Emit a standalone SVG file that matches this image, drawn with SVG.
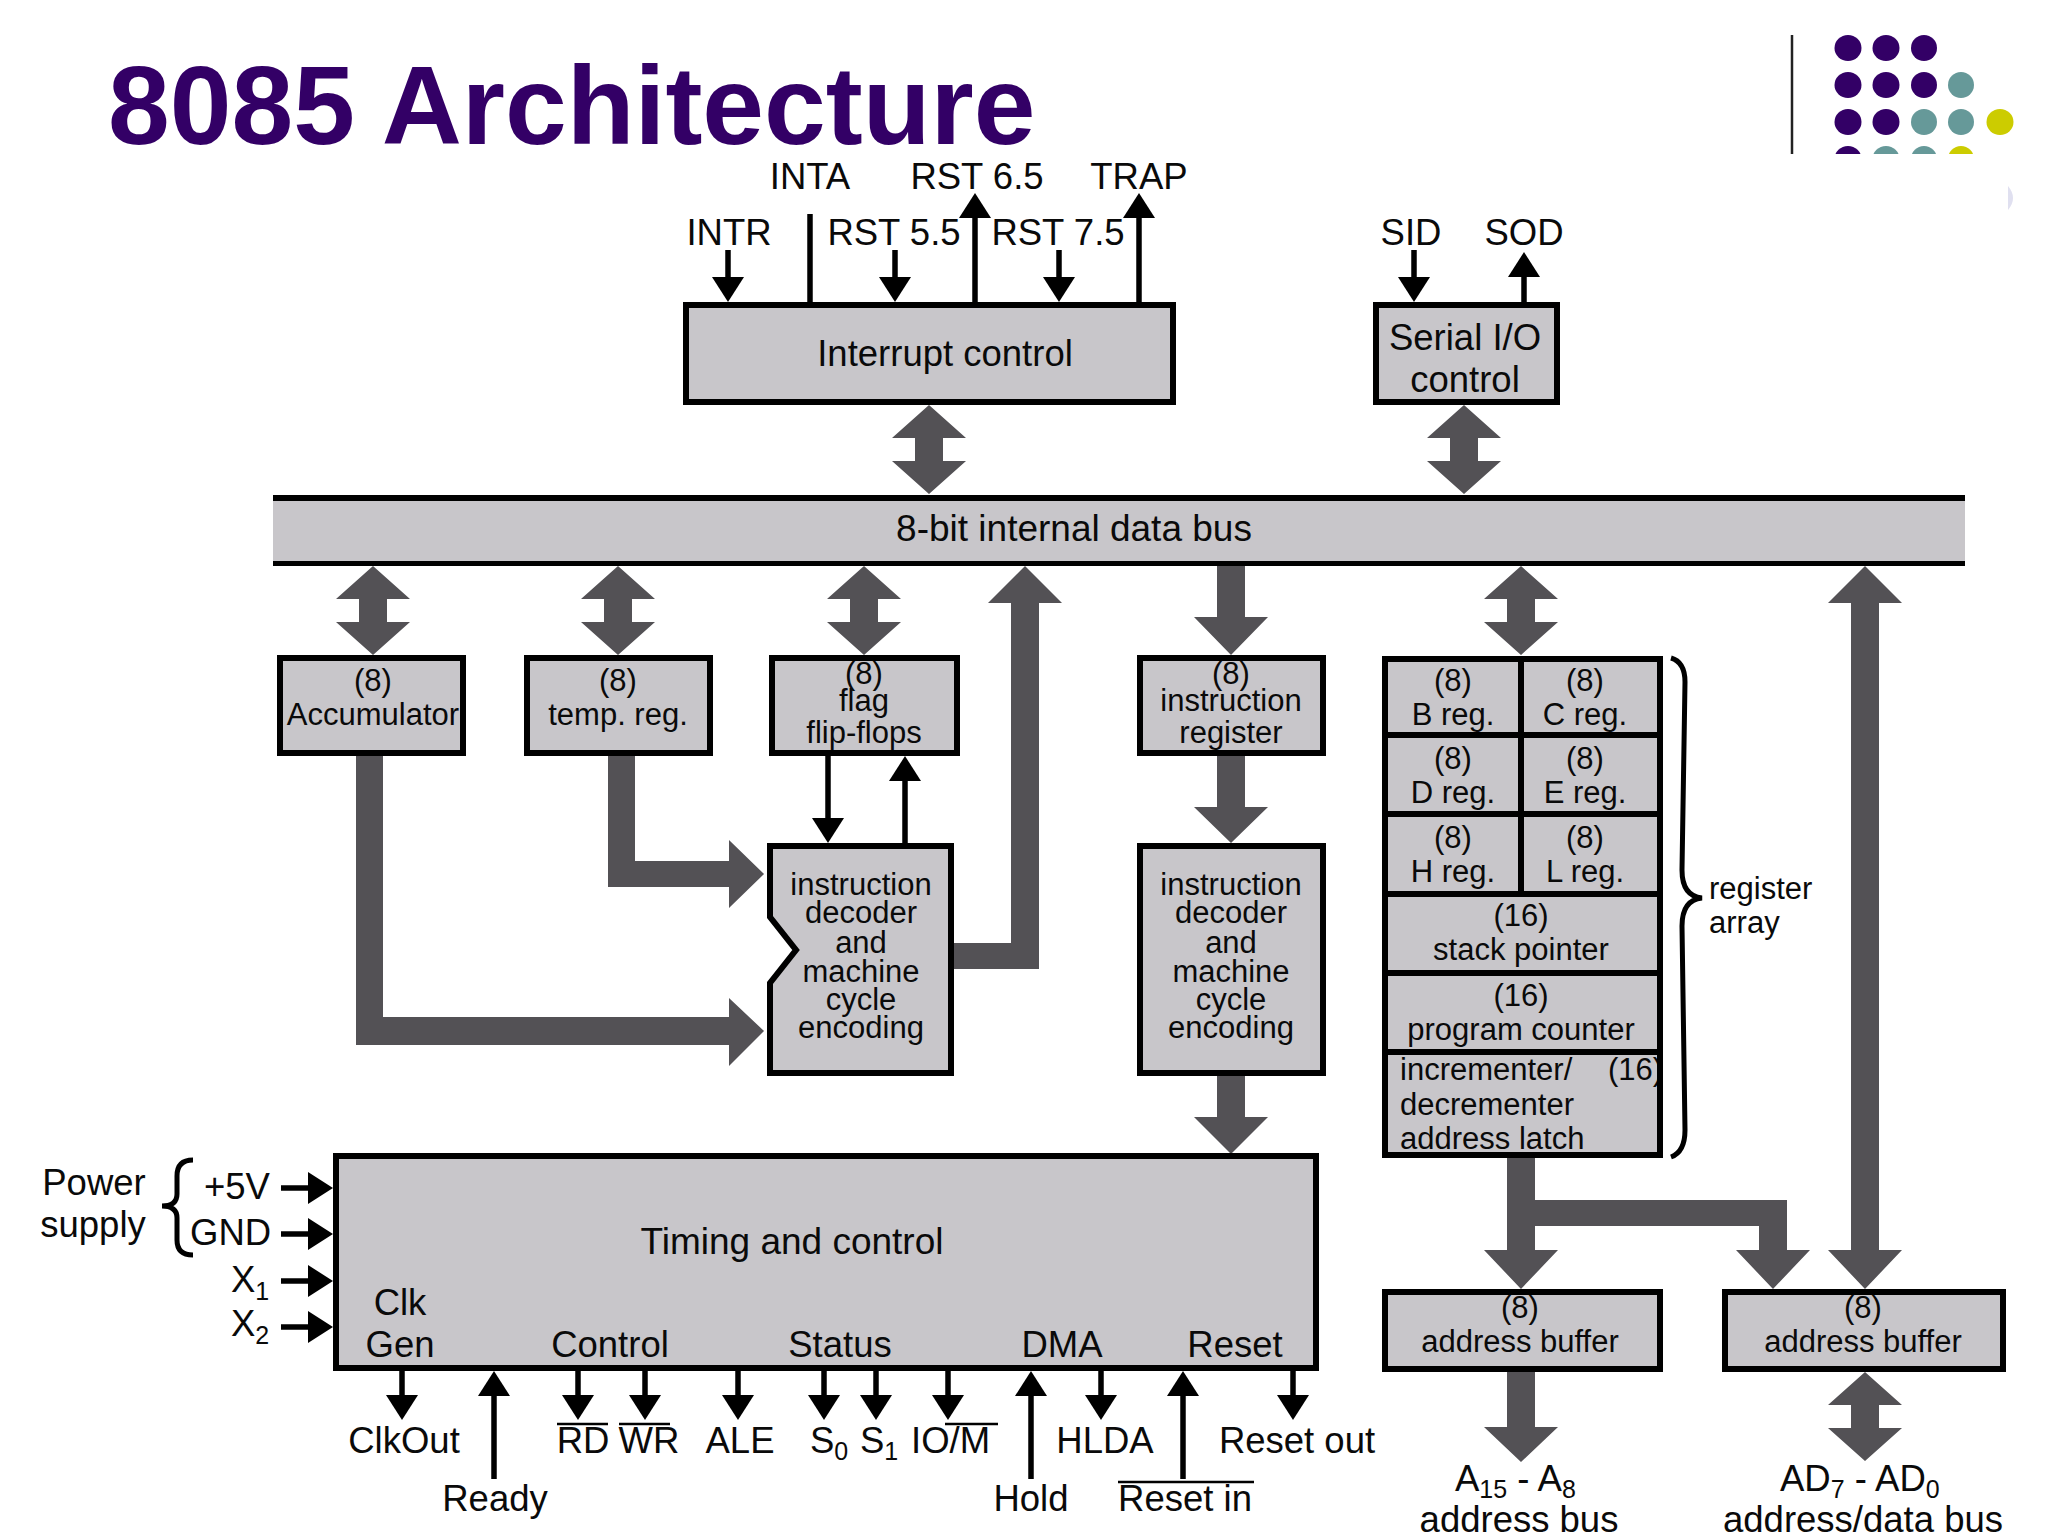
<svg xmlns="http://www.w3.org/2000/svg" width="2048" height="1536" viewBox="0 0 2048 1536">
<style>
text{font-family:"Liberation Sans",Arial,sans-serif;fill:#0a0a0a}
.l{font-size:36.5px}
.s{font-size:31px}
.c{text-anchor:middle}
.box{fill:#c8c6ca;stroke:#000;stroke-width:6}
.div{stroke:#000;stroke-width:6;fill:none}
.sig{stroke:#000;stroke-width:5.5;fill:none;marker-end:url(#ah)}
.plain{stroke:#000;stroke-width:5.5;fill:none}
.bar{stroke:#000;stroke-width:2.5;fill:none}
.thick{fill:#535155}
.brace{stroke:#000;stroke-width:5;fill:none}
.pu{fill:#330066}.te{fill:#669999}.ye{fill:#cccc00}
</style>
<defs>
<marker id="ah" markerUnits="userSpaceOnUse" markerWidth="26" markerHeight="32" refX="0" refY="16" orient="auto"><path d="M0,0L25,16L0,32z" fill="#000"/></marker>
<polygon id="dbl" points="0,0 37,33 14,33 14,56 37,56 0,89 -37,56 -14,56 -14,33 -37,33"/>
<clipPath id="dc"><rect x="1830" y="20" width="200" height="134"/></clipPath>
</defs>
<rect width="2048" height="1536" fill="#fff"/>
<g id="title"><text x="108" y="144" font-size="111" font-weight="700" style="fill:#330066">8085 Architecture</text></g>
<g id="decor">
<line x1="1792" y1="35" x2="1792" y2="154" stroke="#222" stroke-width="2.5"/>
<g clip-path="url(#dc)">
<ellipse class="pu" cx="1848" cy="48" rx="13.5" ry="13"/><ellipse class="pu" cx="1886" cy="48" rx="13.5" ry="13"/><ellipse class="pu" cx="1924" cy="48" rx="13" ry="13"/>
<ellipse class="pu" cx="1848" cy="85" rx="13.5" ry="13"/><ellipse class="pu" cx="1886" cy="85" rx="13.5" ry="13"/><ellipse class="pu" cx="1924" cy="85" rx="13" ry="13"/><ellipse class="te" cx="1961" cy="85" rx="13" ry="13"/>
<ellipse class="pu" cx="1848" cy="122" rx="13.5" ry="13"/><ellipse class="pu" cx="1886" cy="122" rx="13.5" ry="13"/><ellipse class="te" cx="1924" cy="122" rx="13" ry="13"/><ellipse class="te" cx="1961" cy="122" rx="13" ry="13"/><ellipse class="ye" cx="2000" cy="122" rx="13.5" ry="13"/>
<ellipse class="pu" cx="1848" cy="159" rx="13.5" ry="13"/><ellipse class="te" cx="1886" cy="159" rx="13.5" ry="13"/><ellipse class="te" cx="1924" cy="159" rx="13" ry="13"/><ellipse class="ye" cx="1961" cy="159" rx="13" ry="13"/>
</g>
<path d="M2008,186 Q2018,198 2008,210z" fill="#e0e0f0"/>
</g>
<g id="connectors">
<g class="thick">
<use href="#dbl" x="929" y="405"/><use href="#dbl" x="1464" y="405"/>
<use href="#dbl" x="373" y="566"/><use href="#dbl" x="618" y="566"/><use href="#dbl" x="864" y="566"/><use href="#dbl" x="1521" y="566"/>
<use href="#dbl" x="1865" y="1372"/>
<polygon points="1217,566 1245,566 1245,617 1268,617 1231,655 1194,617 1217,617"/>
<polygon points="1217,756 1245,756 1245,807 1268,807 1231,843 1194,807 1217,807"/>
<polygon points="1217,1076 1245,1076 1245,1117 1268,1117 1231,1154 1194,1117 1217,1117"/>
<polygon points="1507,1158 1535,1158 1535,1200 1787,1200 1787,1250 1810,1250 1773,1289 1736,1250 1759,1250 1759,1226 1535,1226 1535,1250 1558,1250 1521,1289 1484,1250 1507,1250"/>
<polygon points="1507,1372 1535,1372 1535,1427 1558,1427 1521,1462 1484,1427 1507,1427"/>
<polygon points="1865,566 1902,603 1879,603 1879,1250 1902,1250 1865,1289 1828,1250 1851,1250 1851,603 1828,603"/>
<polygon points="1025,566 1062,603 1039,603 1039,969 954,969 954,943 1011,943 1011,603 988,603"/>
<polygon points="608,756 635,756 635,861 729,861 729,840 764,874 729,908 729,887 608,887"/>
<polygon points="356,756 383,756 383,1017 729,1017 729,998 764,1031 729,1066 729,1045 356,1045"/>
</g>
<line class="sig" x1="728" y1="250" x2="728" y2="277"/>
<line class="plain" x1="810" y1="214" x2="810" y2="302"/>
<line class="sig" x1="895" y1="250" x2="895" y2="277"/>
<line class="sig" x1="975" y1="302" x2="975" y2="218"/>
<line class="sig" x1="1059" y1="250" x2="1059" y2="277"/>
<line class="sig" x1="1139" y1="302" x2="1139" y2="218"/>
<line class="sig" x1="1414" y1="250" x2="1414" y2="277"/>
<line class="sig" x1="1524" y1="302" x2="1524" y2="277"/>
<line class="sig" x1="828" y1="756" x2="828" y2="818"/>
<line class="sig" x1="905" y1="843" x2="905" y2="781"/>
<line class="sig" x1="281" y1="1188" x2="308" y2="1188"/>
<line class="sig" x1="281" y1="1234" x2="308" y2="1234"/>
<line class="sig" x1="281" y1="1281" x2="308" y2="1281"/>
<line class="sig" x1="281" y1="1327" x2="308" y2="1327"/>
<line class="sig" x1="402" y1="1371" x2="402" y2="1395"/>
<line class="sig" x1="578" y1="1371" x2="578" y2="1395"/>
<line class="sig" x1="645" y1="1371" x2="645" y2="1395"/>
<line class="sig" x1="738" y1="1371" x2="738" y2="1395"/>
<line class="sig" x1="824" y1="1371" x2="824" y2="1395"/>
<line class="sig" x1="876" y1="1371" x2="876" y2="1395"/>
<line class="sig" x1="948" y1="1371" x2="948" y2="1395"/>
<line class="sig" x1="1101" y1="1371" x2="1101" y2="1395"/>
<line class="sig" x1="1293" y1="1371" x2="1293" y2="1395"/>
<line class="sig" x1="494" y1="1479" x2="494" y2="1396"/>
<line class="sig" x1="1031" y1="1479" x2="1031" y2="1396"/>
<line class="sig" x1="1183" y1="1479" x2="1183" y2="1396"/>
</g>
<g id="signal-labels">
<text class="l c" x="810" y="189">INTA</text>
<text class="l c" x="977" y="189">RST 6.5</text>
<text class="l c" x="1139" y="189">TRAP</text>
<text class="l c" x="729" y="245">INTR</text>
<text class="l c" x="894" y="245">RST 5.5</text>
<text class="l c" x="1058" y="245">RST 7.5</text>
<text class="l c" x="1411" y="245">SID</text>
<text class="l c" x="1524" y="245">SOD</text>
<text class="l c" x="94" y="1195">Power</text>
<text class="l c" x="93" y="1237">supply</text>
<text class="l" x="204" y="1199">+5V</text>
<text class="l" x="190" y="1245">GND</text>
<text class="l" x="231" y="1292">X<tspan font-size="25" dy="8">1</tspan></text>
<text class="l" x="231" y="1336">X<tspan font-size="25" dy="8">2</tspan></text>
<path class="brace" d="M193,1160 Q177,1160 177,1176 L177,1194 Q177,1206 162,1206 Q177,1206 177,1218 L177,1240 Q177,1255 193,1255"/>
<text class="l c" x="404" y="1453">ClkOut</text>
<text class="l c" x="583" y="1453">RD</text>
<text class="l c" x="649" y="1453">WR</text>
<text class="l c" x="740" y="1453">ALE</text>
<text class="l" x="810" y="1453">S<tspan font-size="25" dy="7">0</tspan></text>
<text class="l" x="860" y="1453">S<tspan font-size="25" dy="7">1</tspan></text>
<text class="l" x="911" y="1453">IO/M</text>
<text class="l c" x="1105" y="1453">HLDA</text>
<text class="l c" x="1297" y="1453">Reset out</text>
<text class="l c" x="495" y="1511">Ready</text>
<text class="l c" x="1031" y="1511">Hold</text>
<text class="l c" x="1185" y="1511">Reset in</text>
<path class="bar" d="M557,1424H608M619,1424H670M945,1424H998M1118,1482H1254"/>
<text class="l" x="1455" y="1491">A<tspan font-size="25" dy="7">15</tspan><tspan dy="-7"> - A</tspan><tspan font-size="25" dy="7">8</tspan></text>
<text class="l c" x="1519" y="1532">address bus</text>
<text class="l" x="1780" y="1491">AD<tspan font-size="25" dy="7">7</tspan><tspan dy="-7"> - AD</tspan><tspan font-size="25" dy="7">0</tspan></text>
<text class="l c" x="1863" y="1532">address/data bus</text>
</g>
<g id="interrupt-control"><rect class="box" x="686" y="305" width="487" height="97"/><text class="l c" x="945" y="366">Interrupt control</text></g>
<g id="serial-io"><rect class="box" x="1376" y="305" width="181" height="97"/><text class="l c" x="1465" y="350">Serial I/O</text><text class="l c" x="1465" y="392">control</text></g>
<g id="data-bus"><rect x="273" y="495" width="1692" height="71" fill="#000"/><rect x="273" y="501" width="1692" height="60" fill="#c8c6ca"/><text class="l c" x="1074" y="541" style="font-size:37px">8-bit internal data bus</text></g>
<g id="accumulator"><rect class="box" x="280" y="658" width="183" height="95"/><text class="s c" x="373" y="691">(8)</text><text class="s c" x="373" y="725">Accumulator</text></g>
<g id="temp-reg"><rect class="box" x="527" y="658" width="183" height="95"/><text class="s c" x="618" y="691">(8)</text><text class="s c" x="618" y="725">temp. reg.</text></g>
<g id="flag"><rect class="box" x="772" y="658" width="185" height="95"/><text class="s c" x="864" y="684">(8)</text><text class="s c" x="864" y="711">flag</text><text class="s c" x="864" y="743">flip-flops</text></g>
<g id="instruction-register"><rect class="box" x="1140" y="658" width="183" height="95"/><text class="s c" x="1231" y="684">(8)</text><text class="s c" x="1231" y="711">instruction</text><text class="s c" x="1231" y="743">register</text></g>
<g id="decoder-1"><path class="box" d="M770,846H951V1073H770V983L796,950L770,917z"/><text class="s c" x="861" y="895">instruction</text><text class="s c" x="861" y="923">decoder</text><text class="s c" x="861" y="953">and</text><text class="s c" x="861" y="982">machine</text><text class="s c" x="861" y="1010">cycle</text><text class="s c" x="861" y="1038">encoding</text></g>
<g id="decoder-2"><rect class="box" x="1140" y="846" width="183" height="227"/><text class="s c" x="1231" y="895">instruction</text><text class="s c" x="1231" y="923">decoder</text><text class="s c" x="1231" y="953">and</text><text class="s c" x="1231" y="982">machine</text><text class="s c" x="1231" y="1010">cycle</text><text class="s c" x="1231" y="1038">encoding</text></g>
<g id="register-array">
<rect x="1385" y="659" width="275" height="496" fill="#c8c6ca"/>
<text class="s c" x="1453" y="691">(8)</text><text class="s c" x="1453" y="725">B reg.</text><text class="s c" x="1585" y="691">(8)</text><text class="s c" x="1585" y="725">C reg.</text>
<text class="s c" x="1453" y="769">(8)</text><text class="s c" x="1453" y="803">D reg.</text><text class="s c" x="1585" y="769">(8)</text><text class="s c" x="1585" y="803">E reg.</text>
<text class="s c" x="1453" y="848">(8)</text><text class="s c" x="1453" y="882">H reg.</text><text class="s c" x="1585" y="848">(8)</text><text class="s c" x="1585" y="882">L reg.</text>
<text class="s c" x="1521" y="926">(16)</text><text class="s c" x="1521" y="960">stack pointer</text>
<text class="s c" x="1521" y="1006">(16)</text><text class="s c" x="1521" y="1040">program counter</text>
<text class="s" x="1400" y="1080">incrementer/</text><text class="s" x="1608" y="1080">(16)</text><text class="s" x="1400" y="1115">decrementer</text><text class="s" x="1400" y="1149">address latch</text>
<rect class="div" x="1385" y="659" width="275" height="496"/>
<path class="div" d="M1385,735H1660M1385,814H1660M1385,894H1660M1385,973H1660M1385,1052H1660M1521,659V894"/>
<path class="brace" d="M1671,658 Q1685,662 1685,682 L1682,870 Q1682,896 1702,898 Q1682,900 1682,926 L1685,1130 Q1685,1152 1671,1157"/>
<text class="s" x="1709" y="899">register</text><text class="s" x="1709" y="933">array</text>
</g>
<g id="timing-control"><rect class="box" x="336" y="1156" width="980" height="212"/><text class="l c" x="792" y="1254" style="font-size:37px">Timing and control</text><text class="l c" x="400" y="1315">Clk</text><text class="l c" x="400" y="1357">Gen</text><text class="l c" x="610" y="1357">Control</text><text class="l c" x="840" y="1357">Status</text><text class="l c" x="1062" y="1357">DMA</text><text class="l c" x="1235" y="1357">Reset</text></g>
<g id="address-buffer-high"><rect class="box" x="1385" y="1292" width="275" height="77"/><text class="s c" x="1520" y="1318">(8)</text><text class="s c" x="1520" y="1352">address buffer</text></g>
<g id="address-buffer-low"><rect class="box" x="1725" y="1292" width="278" height="77"/><text class="s c" x="1863" y="1318">(8)</text><text class="s c" x="1863" y="1352">address buffer</text></g>
</svg>
